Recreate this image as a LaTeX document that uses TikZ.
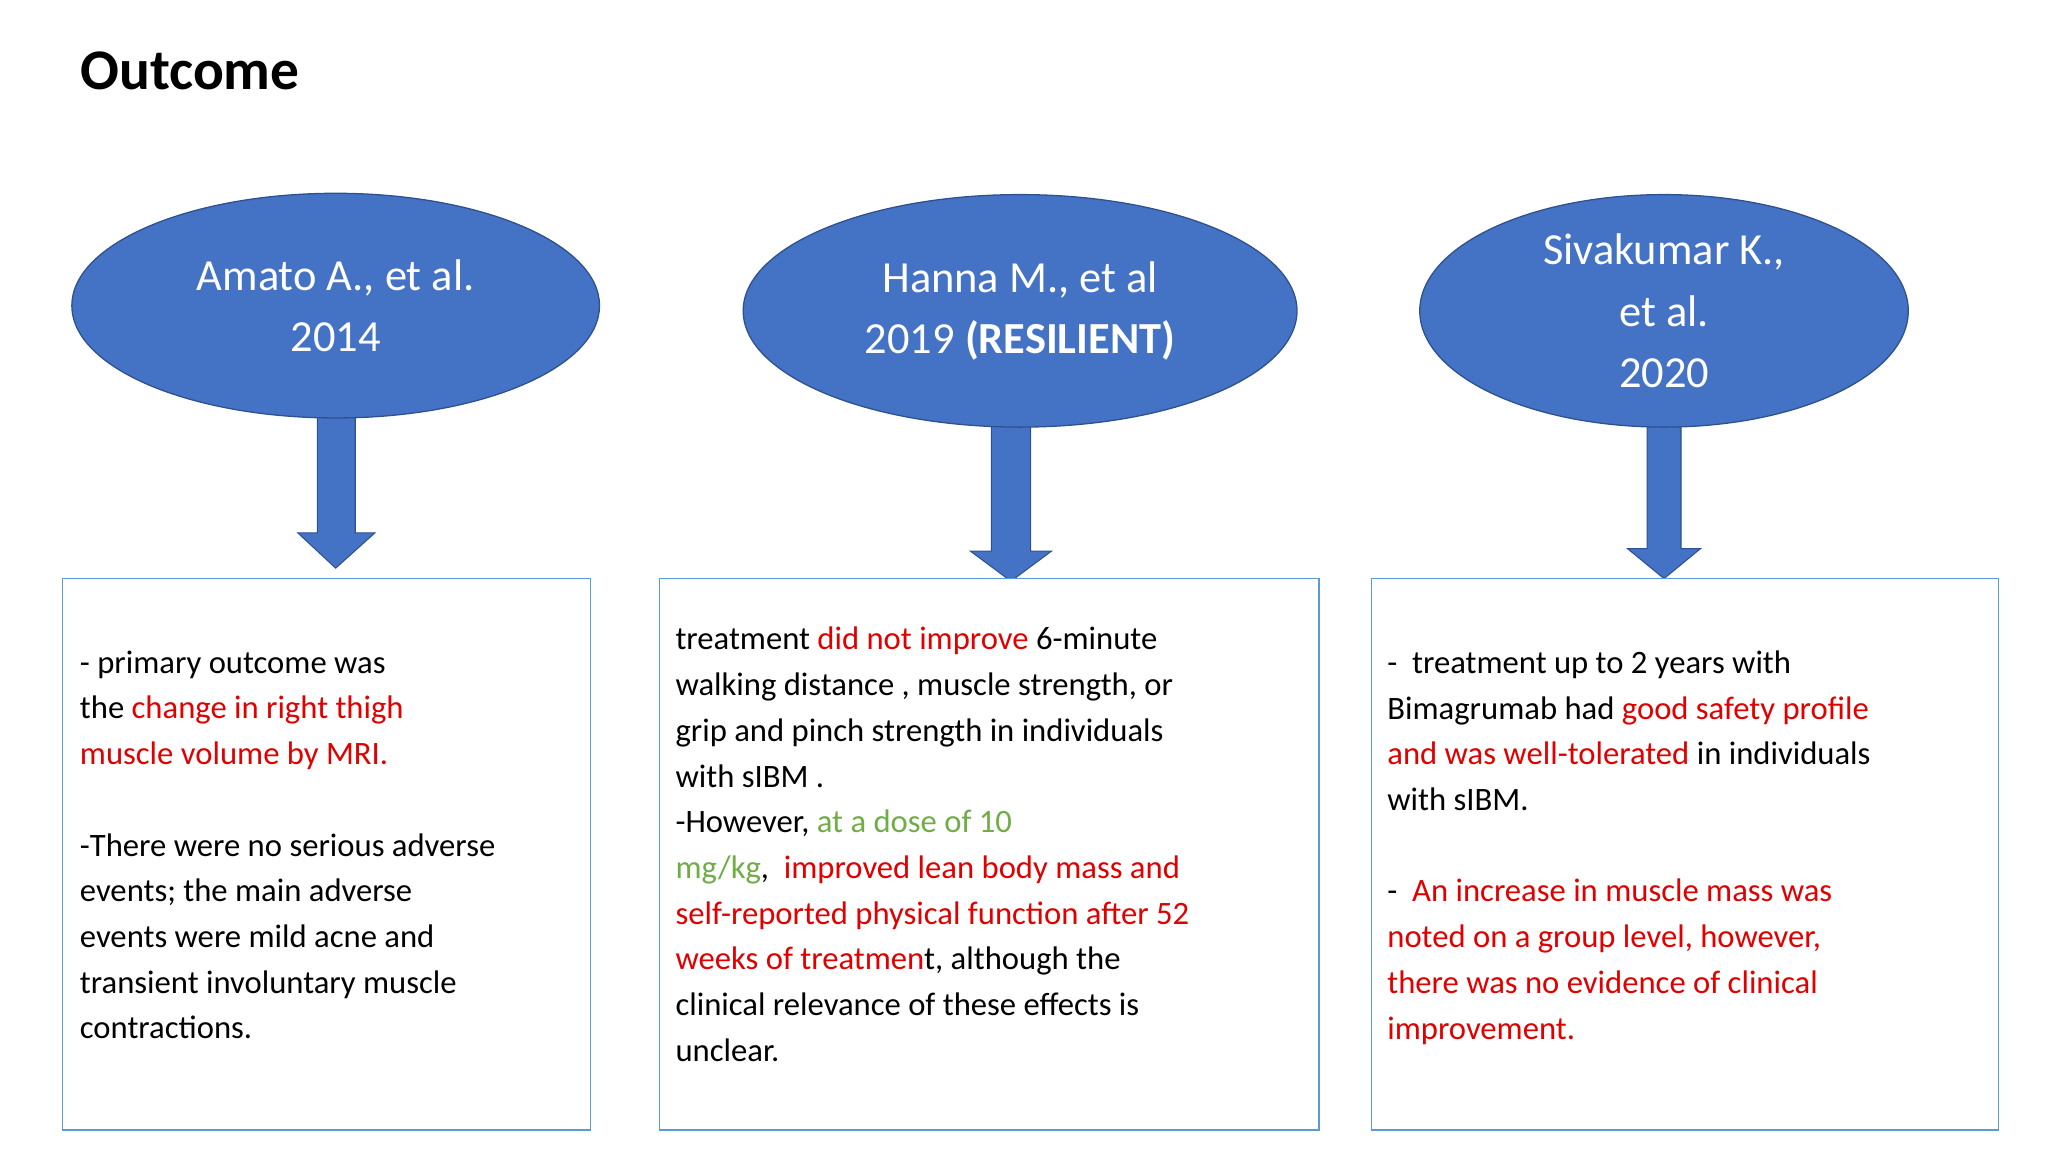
\documentclass[tikz,border=0pt]{standalone}
\usepackage{fontspec}
\setmainfont{Carlito}
\usetikzlibrary{shapes.geometric}
\definecolor{ellfill}{HTML}{4472C4}
\definecolor{elldraw}{HTML}{2F528F}
\definecolor{boxdraw}{HTML}{5B9BD5}
\definecolor{rd}{HTML}{E00000}
\definecolor{gr}{HTML}{70AD47}
\begin{document}
\begin{tikzpicture}[x=1pt,y=-1pt,
  ell/.style={ellipse,fill=ellfill,draw=elldraw,line width=1pt,text=white,align=center,font=\fontsize{34}{47}\selectfont},
  box/.style={draw=boxdraw,line width=1.2pt,fill=white},
  txt/.style={anchor=north west,align=left,inner sep=0pt,font=\fontsize{25}{35}\selectfont},
  barrow/.style={fill=ellfill,draw=elldraw,line width=0.8pt}]
\useasboundingbox (0,0) rectangle (1568,882);
\node[anchor=west,font=\bfseries\fontsize{44}{50}\selectfont] (title) at (58,54) {Outcome};
% arrows
\draw[barrow] (243,316) -- (272,316) -- (272,408) -- (287,408) -- (257,435) -- (228,408) -- (243,408) -- cycle;
\draw[barrow] (759,322) -- (789,322) -- (789,422) -- (805,422) -- (774,445) -- (743,422) -- (759,422) -- cycle;
\draw[barrow] (1261,318) -- (1287,318) -- (1287,420) -- (1302,420) -- (1274,443) -- (1246,420) -- (1261,420) -- cycle;
% ellipses
\node[ell,minimum width=404,minimum height=172] (e1) at (257,234) {Amato A., et al.\\2014};
\node[ell,minimum width=424,minimum height=178] (e2) at (781,238) {Hanna M., et al\\2019 \textbf{(RESILIENT)}};
\node[ell,minimum width=374,minimum height=178] (e3) at (1274,238) {Sivakumar K.,\\et al.\\2020};
% boxes
\draw[box] (48,443) rectangle (452,865);
\draw[box] (505,443) rectangle (1010,865);
\draw[box] (1050,443) rectangle (1530,865);
\node[txt] (t1) at (61,498) {- primary outcome was\\
the \textcolor{rd}{change in right thigh}\\
\textcolor{rd}{muscle volume by MRI.}\\[35pt]
-There were no serious adverse\\
events; the main adverse\\
events were mild acne and\\
transient involuntary muscle\\
contractions.};
\node[txt] (t2) at (517,480) {treatment \textcolor{rd}{did not improve} 6-minute\\
walking distance , muscle strength, or\\
grip and pinch strength in individuals\\
with sIBM .\\
-However, \textcolor{gr}{at a dose of 10}\\
\textcolor{gr}{mg/kg},\ \ \textcolor{rd}{improved lean body mass and}\\
\textcolor{rd}{self-reported physical function after 52}\\
\textcolor{rd}{weeks of treatmen}t, although the\\
clinical relevance of these effects is\\
unclear.};
\node[txt] (t3) at (1062,498) {-\ \ treatment up to 2 years with\\
Bimagrumab had \textcolor{rd}{good safety profile}\\
\textcolor{rd}{and was well-tolerated} in individuals\\
with sIBM.\\[35pt]
-\ \ \textcolor{rd}{An increase in muscle mass was}\\
\textcolor{rd}{noted on a group level, however,}\\
\textcolor{rd}{there was no evidence of clinical}\\
\textcolor{rd}{improvement.}};
\end{tikzpicture}
\end{document}
